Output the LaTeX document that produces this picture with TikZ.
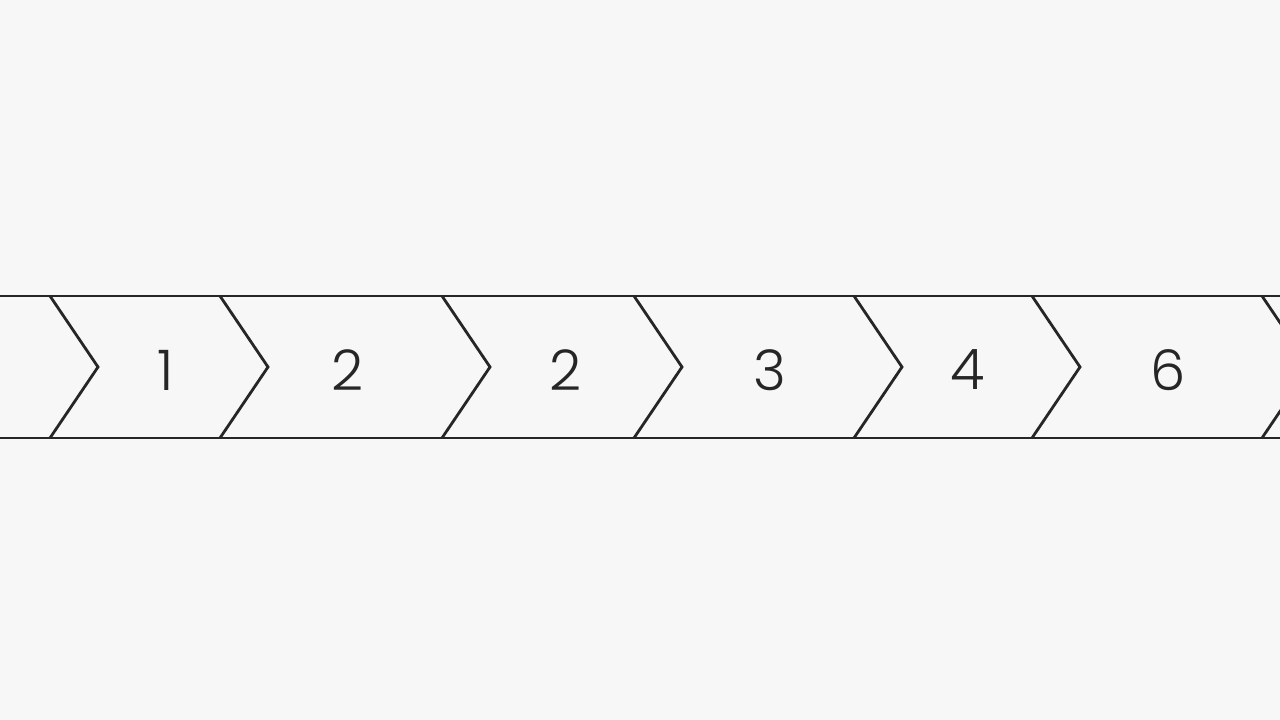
\documentclass[tikz,border=0pt]{standalone}
\usepackage{fontspec}
\setmainfont{Poppins Light}
\usepackage{tikz}

\tikzset{
  band/.style={line width=2.8pt,draw=black!85},
  digit/.style={font=\fontsize{56}{60}\selectfont,text=black!85,inner sep=0pt}
}

\begin{document}
\begin{tikzpicture}[x=1pt,y=1pt]
  \fill[gray!6] (0,0) rectangle (1280,720);
  \useasboundingbox (0,0) rectangle (1280,720);
  \clip (0,0) rectangle (1280,720);
  % band edges
  \coordinate (B-l) at (-5,424);
  \coordinate (B-r) at (1285,424);
  \coordinate (C-l) at (-5,282);
  \coordinate (C-r) at (1285,282);
  \draw[band] (B-l) -- (B-r);
  \draw[band] (C-l) -- (C-r);
  % chevrons
  \foreach \x [count=\i] in {50,220,442,634,854,1032,1262} {
    \coordinate (T-\i) at (\x,424);
    \coordinate (M-\i) at (\x+48,353);
    \coordinate (U-\i) at (\x,282);
    \draw[band,line join=miter] (T-\i) -- (M-\i) -- (U-\i);
  }
  % numbers
  \node[digit] (N-1) at (166,350) {1};
  \node[digit] (N-2) at (348,350) {2};
  \node[digit] (N-3) at (566,350) {2};
  \node[digit] (N-4) at (770,350) {3};
  \node[digit] (N-5) at (968,350) {4};
  \node[digit] (N-6) at (1168,350) {6};
\end{tikzpicture}
\end{document}
